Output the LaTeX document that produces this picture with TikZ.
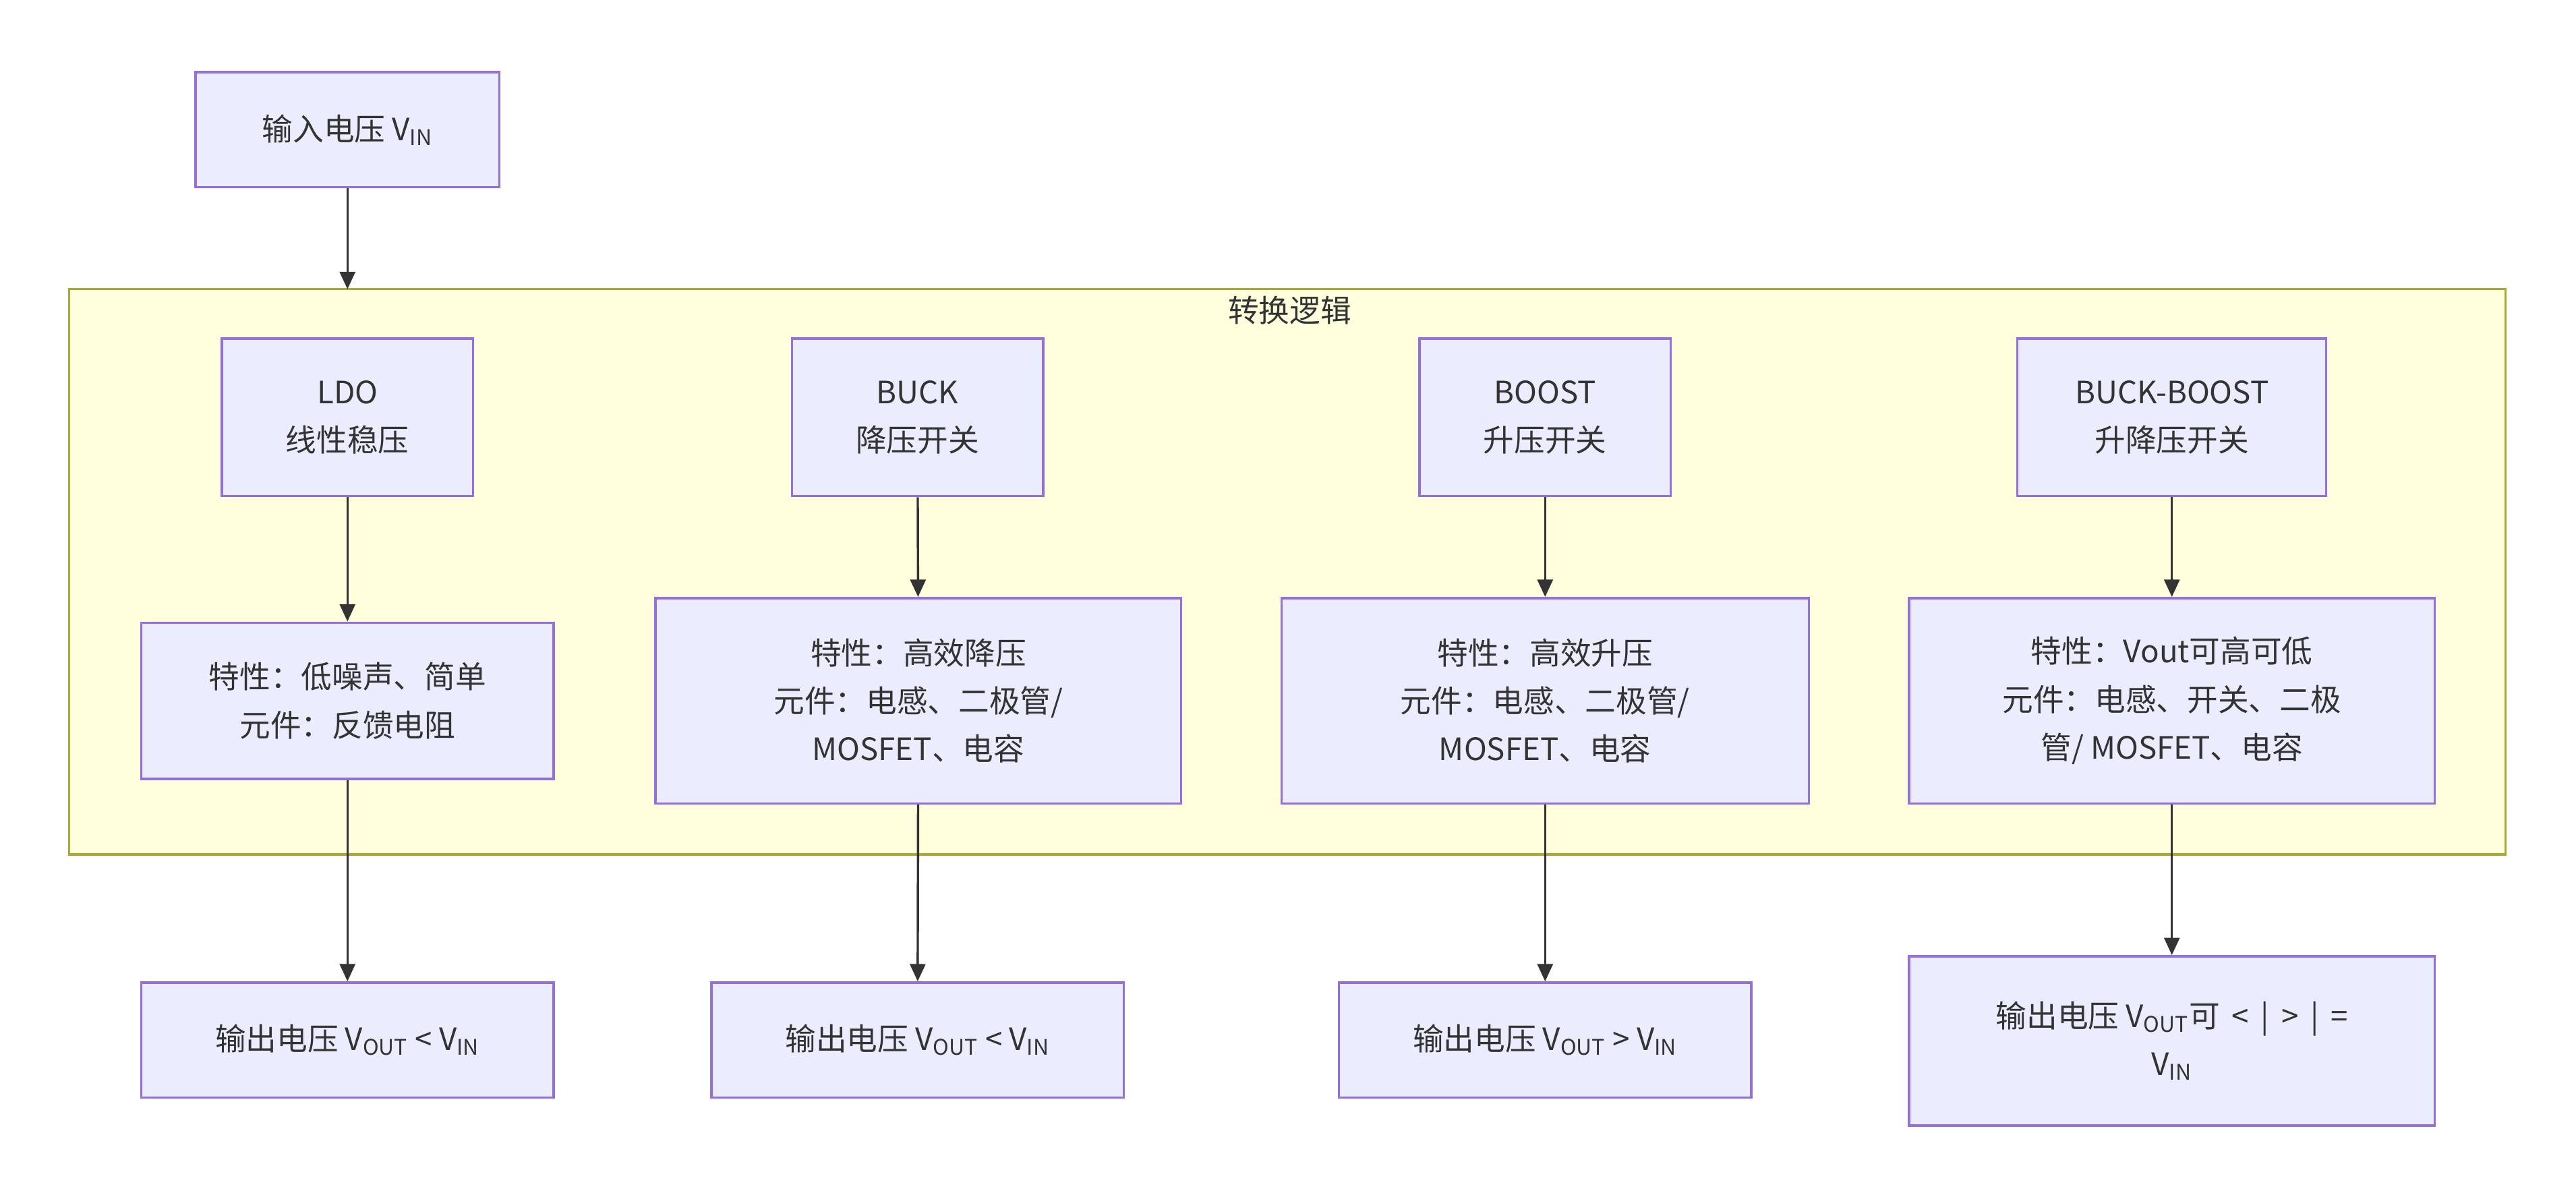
\documentclass[tikz,border=0pt]{standalone}
\usepackage{fontspec}
\setmainfont{Noto Sans CJK SC}
\usetikzlibrary{arrows.meta}
\definecolor{nf}{HTML}{ECECFF}\definecolor{ns}{HTML}{9370DB}
\definecolor{cf}{HTML}{FFFFDE}\definecolor{cs}{HTML}{AAAA33}
\definecolor{ar}{HTML}{333333}\definecolor{tx}{HTML}{333333}
\begin{document}
\begin{tikzpicture}[x=0.03cm,y=-0.03cm,
 box/.style={draw=ns,fill=nf,line width=1.2pt,inner sep=0pt,align=center,text=tx,font=\fontsize{16}{25}\selectfont},
 arr/.style={draw=ar,line width=1.2pt,-{Triangle[length=9pt,width=8pt]}}]
\useasboundingbox (0,0) rectangle (1568,726);
\fill[white] (0,0) rectangle (1568,726);
\node[draw=cs,fill=cf,line width=1.2pt,minimum width=1483*0.03cm,minimum height=344*0.03cm,inner sep=0pt] (cl) at (783.5,348) {};
\node[text=tx,font=\fontsize{16}{18}\selectfont] (ct) at (785,189) {转换逻辑};
\newcommand\bx[5]{\node[box,minimum width=#3*0.03cm,minimum height=#4*0.03cm] (#1) at #2 {#5};}
\bx{in}{(211.5,79)}{185}{70}{输入电压 V\textsubscript{IN}}
\bx{l1}{(211.5,254)}{153}{96}{LDO\\线性稳压}
\bx{b1}{(558.5,254)}{153}{96}{BUCK\\降压开关}
\bx{s1}{(940.5,254)}{153}{96}{BOOST\\升压开关}
\bx{bb1}{(1322,254)}{188}{96}{BUCK-BOOST\\升降压开关}
\bx{l2}{(211.5,426.5)}{251}{95}{特性：低噪声、简单\\元件：反馈电阻}
\bx{b2}{(559,426.5)}{320}{125}{特性：高效降压\\元件：电感、二极管/\\MOSFET、电容}
\bx{s2}{(940.5,426.5)}{321}{125}{特性：高效升压\\元件：电感、二极管/\\MOSFET、电容}
\bx{bb2}{(1322,426.5)}{320}{125}{特性：Vout可高可低\\元件：电感、开关、二极\\管/ MOSFET、电容}
\bx{l3}{(211.5,633)}{251}{70}{输出电压 V\textsubscript{OUT} < V\textsubscript{IN}}
\bx{b3}{(558.5,633)}{251}{70}{输出电压 V\textsubscript{OUT} < V\textsubscript{IN}}
\bx{s3}{(940.5,633)}{251}{70}{输出电压 V\textsubscript{OUT} > V\textsubscript{IN}}
\bx{bb3}{(1322,633.5)}{320}{103}{输出电压 V\textsubscript{OUT}可 \,<\, | \,>\, | \,=\\V\textsubscript{IN}}
\coordinate (ct0) at (211.5,176);
\draw[arr] (in) -- (ct0);
\foreach \a/\b/\c in {l1/l2/l3,b1/b2/b3,s1/s2/s3,bb1/bb2/bb3}{
 \draw[arr] (\a) -- (\b); \draw[arr] (\b) -- (\c);}
\end{tikzpicture}
\end{document}
